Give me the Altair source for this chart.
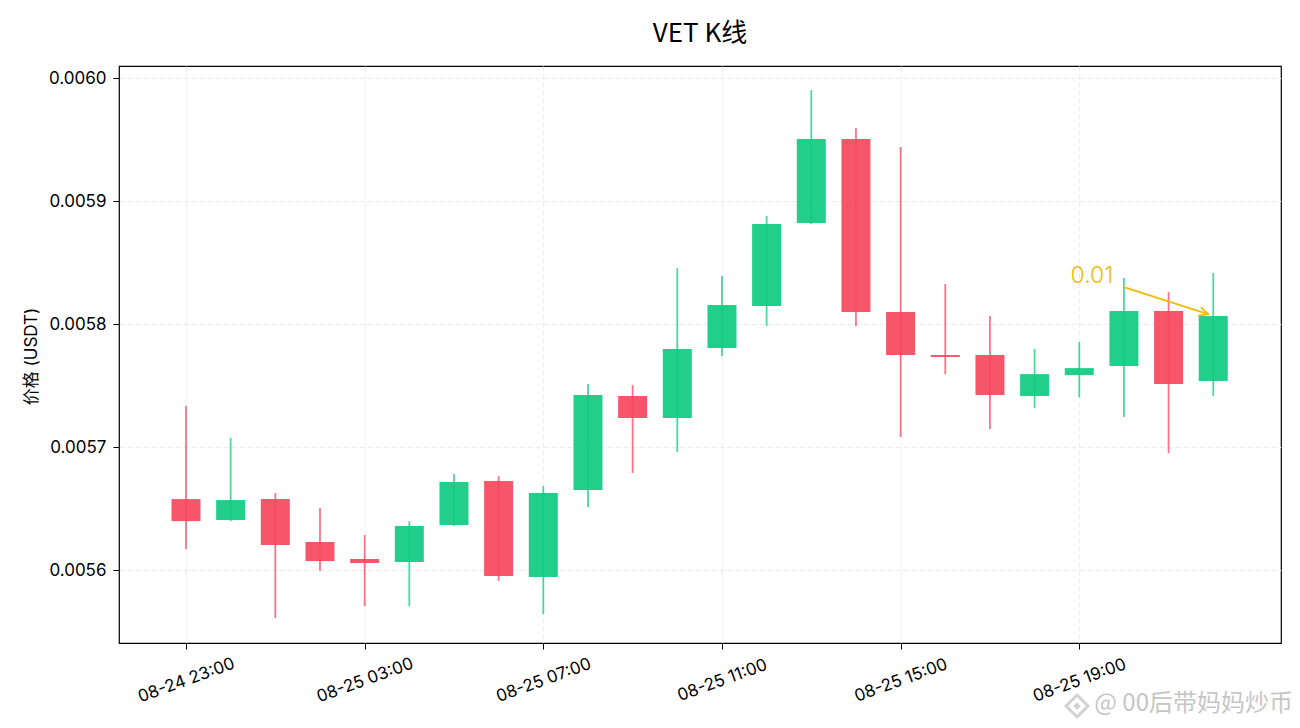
import altair as alt
import pandas as pd

# ---- data ----
times = [
    "2025-08-24T23:00:00", "2025-08-25T00:00:00", "2025-08-25T01:00:00", "2025-08-25T02:00:00",
    "2025-08-25T03:00:00", "2025-08-25T04:00:00", "2025-08-25T05:00:00", "2025-08-25T06:00:00",
    "2025-08-25T07:00:00", "2025-08-25T08:00:00", "2025-08-25T09:00:00", "2025-08-25T10:00:00",
    "2025-08-25T11:00:00", "2025-08-25T12:00:00", "2025-08-25T13:00:00", "2025-08-25T14:00:00",
    "2025-08-25T15:00:00", "2025-08-25T16:00:00", "2025-08-25T17:00:00", "2025-08-25T18:00:00",
    "2025-08-25T19:00:00", "2025-08-25T20:00:00", "2025-08-25T21:00:00", "2025-08-25T22:00:00",
]
opens = [0.0056577, 0.0056407, 0.0056577, 0.0056228, 0.0056089, 0.0056065, 0.0056366, 0.0056724,
         0.0055943, 0.0056650, 0.0057415, 0.0057236, 0.0057805, 0.0058146, 0.0058821, 0.0059504,
         0.0058098, 0.0057748, 0.0057748, 0.0057415, 0.0057585, 0.0057659, 0.0058106, 0.0057537]
highs = [0.0057333, 0.0057073, 0.0056626, 0.0056504, 0.0056285, 0.0056398, 0.0056780, 0.0056764,
         0.0056683, 0.0057512, 0.0057504, 0.0058455, 0.0058390, 0.0058878, 0.0059902, 0.0059593,
         0.0059439, 0.0058325, 0.0058065, 0.0057797, 0.0057854, 0.0058374, 0.0058260, 0.0058415]
lows = [0.0056171, 0.0056398, 0.0055610, 0.0055992, 0.0055707, 0.0055707, 0.0056358, 0.0055911,
        0.0055642, 0.0056512, 0.0056789, 0.0056959, 0.0057740, 0.0057984, 0.0058813, 0.0057984,
        0.0057081, 0.0057593, 0.0057146, 0.0057317, 0.0057407, 0.0057244, 0.0056951, 0.0057415]
closes = [0.0056398, 0.0056569, 0.0056203, 0.0056073, 0.0056057, 0.0056358, 0.0056715, 0.0055951,
          0.0056626, 0.0057423, 0.0057236, 0.0057797, 0.0058154, 0.0058813, 0.0059504, 0.0058098,
          0.0057748, 0.0057732, 0.0057423, 0.0057593, 0.0057642, 0.0058106, 0.0057512, 0.0058065]

y_ticks = [0.0056, 0.0057, 0.0058, 0.0059, 0.0060]
title_text = "VET K线"
y_title = "价格 (USDT)"

ann_text = ["0.01"]
ann_text_time = ["2025-08-25T19:17:00"]
ann_text_price = [0.0058390]
ann_start_time = ["2025-08-25T20:00:00"]
ann_start_price = [0.0058301]
ann_end_time = ["2025-08-25T21:53:00"]
ann_end_price = [0.0058081]

watermark = "@ 00后带妈妈炒币"

UP = "#0ECB81"
DOWN = "#F6465D"
GOLD = "#F0B90B"
LATIN = "Inter, Noto Sans CJK SC, sans-serif"
CJK = "Noto Sans CJK SC, sans-serif"

df = pd.DataFrame({"time": times, "open": opens, "high": highs, "low": lows, "close": closes})
ann = pd.DataFrame({
    "text": ann_text, "tt": ann_text_time, "tp": ann_text_price,
    "st": ann_start_time, "sp": ann_start_price, "et": ann_end_time, "ep": ann_end_price,
})

x_domain = [alt.DateTime(year=2025, month=8, date=24, hours=21, minutes=30),
            alt.DateTime(year=2025, month=8, date=25, hours=23, minutes=31)]
x_values = [alt.DateTime(year=2025, month=8, date=24, hours=23)] + [
    alt.DateTime(year=2025, month=8, date=25, hours=h) for h in (3, 7, 11, 15, 19)]

x_scale = alt.Scale(domain=x_domain, padding=0, nice=False)
y_scale = alt.Scale(domain=[0.0055407, 0.0060098], nice=False, zero=False, padding=0)

x_axis = alt.Axis(values=x_values, format="%m-%d %H:%M", labelAngle=340,
                  labelAlign="center", labelBaseline="middle", labelPadding=31,
                  tickSize=6, title=None, grid=True)
y_axis = alt.Axis(values=y_ticks, format=".4f", tickSize=6, labelPadding=7,
                  title=y_title, titleX=-88, titleY=290, titleAngle=270,
                  titleAlign="center", titleBaseline="middle", grid=True)

base = alt.Chart(df).transform_calculate(
    dir="datum.close >= datum.open ? 'up' : 'down'"
)
color = alt.Color("dir:N", scale=alt.Scale(domain=["up", "down"], range=[UP, DOWN]), legend=None)

wicks = base.mark_rule(strokeWidth=1.8, opacity=0.75).encode(
    x=alt.X("time:T", scale=x_scale, axis=x_axis),
    y=alt.Y("low:Q", scale=y_scale, axis=y_axis),
    y2="high:Q",
    color=color,
)
bodies = base.mark_bar(size=29, opacity=0.92).encode(
    x=alt.X("time:T", scale=x_scale),
    y=alt.Y("open:Q", scale=y_scale),
    y2="close:Q",
    color=color,
)

ann_base = alt.Chart(ann)
ann_label = ann_base.mark_text(color=GOLD, fontSize=23, font=LATIN, align="center",
                               baseline="middle", fontWeight=300).encode(
    x=alt.X("tt:T", scale=x_scale), y=alt.Y("tp:Q", scale=y_scale), text="text:N")
ann_shaft = ann_base.mark_rule(color=GOLD, strokeWidth=1.8).encode(
    x=alt.X("st:T", scale=x_scale), y=alt.Y("sp:Q", scale=y_scale), x2="et:T", y2="ep:Q")
ann_head = ann_base.mark_point(shape="M -1 -0.5 L 0 0 L -1 0.5", size=324, filled=False,
                               color=GOLD, strokeWidth=1.8, angle=18, opacity=1).encode(
    x=alt.X("et:T", scale=x_scale), y=alt.Y("ep:Q", scale=y_scale))

wm_df = pd.DataFrame({"t": [watermark]})
wm_text = alt.Chart(wm_df).mark_text(
    color="#c6c6c6", fontSize=24, font=CJK, align="right", baseline="middle"
).encode(x=alt.value(1174), y=alt.value(638), text="t:N")
wm_logo = alt.Chart(wm_df).mark_point(
    shape="diamond", size=480, filled=False, color="#d2d2d2", strokeWidth=3, opacity=1
).encode(x=alt.value(958), y=alt.value(640))
wm_logo2 = alt.Chart(wm_df).mark_point(
    shape="diamond", size=60, filled=True, color="#d2d2d2", opacity=1
).encode(x=alt.value(958), y=alt.value(640))

chart = alt.layer(wicks, bodies, ann_shaft, ann_head, ann_label, wm_logo, wm_logo2, wm_text).properties(
    width=1162, height=577,
    title=alt.TitleParams(title_text, font=CJK, fontSize=26, fontWeight="normal", color="#000", offset=19),
    autosize=alt.AutoSizeParams(type="none"),
    padding={"left": 111, "top": 58, "right": 11, "bottom": 77},
    background="white",
).configure_view(
    stroke="#000", strokeWidth=1.2
).configure_axis(
    domain=False, tickColor="#000", labelColor="#000", titleColor="#000",
    labelFont=LATIN, labelFontSize=17, titleFont=LATIN, titleFontSize=17, titleFontWeight="normal",
    gridColor="#ebebeb", gridDash=[5, 3], gridWidth=1,
)

chart.save("out.html", embed_options={"renderer": "svg", "actions": False})
